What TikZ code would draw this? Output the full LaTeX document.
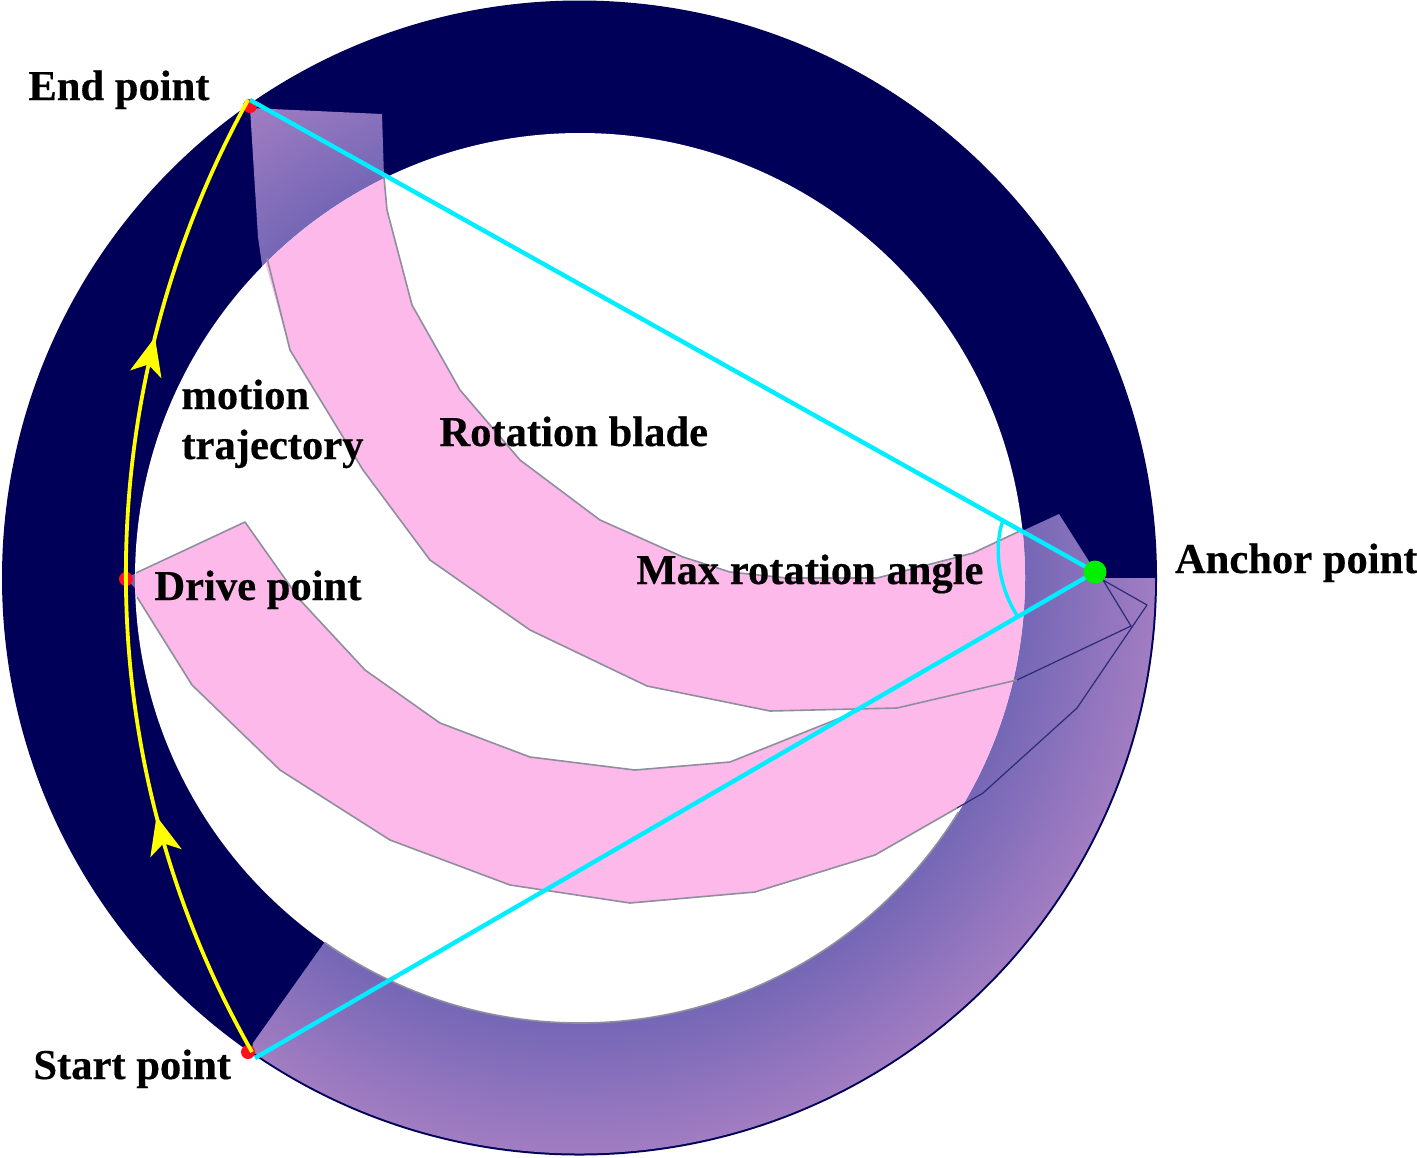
\documentclass[tikz,border=0pt]{standalone}
\usepackage{fontspec}
\setmainfont{Liberation Serif}[BoldFeatures={FakeBold=0.35}]
\usetikzlibrary{arrows.meta,decorations.markings}
\definecolor{ringnavy}{HTML}{000058}
\definecolor{bladepink}{HTML}{FDB9E9}
\definecolor{purpledark}{HTML}{7467B6}
\definecolor{purplelight}{HTML}{A27DC2}
\definecolor{edgegray}{HTML}{8E8E9E}
\definecolor{edgedark}{HTML}{2B2B78}
\definecolor{linecyan}{HTML}{00EEFF}
\definecolor{lineyellow}{HTML}{FFFF00}
\definecolor{anchorgreen}{HTML}{00F000}
\definecolor{dotred}{HTML}{FF0F1F}
\pgfdeclareradialshading{ringshade}{\pgfpoint{0bp}{0bp}}{color(0bp)=(purpledark); color(19.2bp)=(purpledark); color(25bp)=(purplelight); color(50bp)=(purplelight)}
\tikzset{
  lbl/.style={anchor=base west,inner sep=0pt,font=\fontsize{21.3pt}{24pt}\selectfont\bfseries,text=black},
  reddot/.style={circle,fill=dotred,inner sep=0pt,minimum size=7pt},
  greendot/.style={circle,fill=anchorgreen,inner sep=0pt,minimum size=11.5pt},
  cyanline/.style={draw=linecyan,line width=2.2pt},
  cyanarc/.style={draw=linecyan,line width=1.7pt},
  grayedge/.style={draw=edgegray,line width=0.8pt,line join=round},
  darkedge/.style={draw=edgedark,line width=0.6pt,line join=round},
  trajectory/.style={draw=lineyellow,line width=1.9pt,postaction={decorate},
    decoration={markings,
      mark=at position 0.2565 with {\arrow[lineyellow]{Stealth[length=19pt,width=16pt,inset=5pt]}},
      mark=at position 0.743 with {\arrow[lineyellow]{Stealth[length=19pt,width=16pt,inset=5pt]}}}},
}
\begin{document}
\begin{tikzpicture}[x=0.5pt,y=-0.5pt]
\useasboundingbox (0,0) rectangle (1417,1157);
\fill[white] (0,0) rectangle (1417,1157);
\coordinate (ringc) at (579.5,578);
\coordinate (holec) at (580,578);
% ring
\fill[ringnavy] (ringc) circle[radius=577.5];
% purple overlap in the ring
\begin{scope}
  \clip (ringc) circle[radius=575.5];
  \clip (1020,532) -- (1059,514) -- (1090,563) -- (1103,578) -- (1175,578) -- (1175,1175) -- (230,1175) -- (253,1043) -- (324,943) -- cycle
        (250,108) -- (382,114) -- (384,177) -- (420,300) -- (267,300) -- (258,237) -- cycle
        (126,578) -- (150,567) -- (150,605) -- cycle;
  \shade[shading=ringshade] (ringc) circle[radius=577.5];
\end{scope}
% hole
\fill[white] (holec) circle[radius=445];
% blades inside the hole
\begin{scope}
  \clip (holec) circle[radius=445];
  \fill[bladepink] (250,108) -- (382,114) -- (384,177) -- (387,210) -- (412,305) -- (460,390) -- (520,460) -- (600,520) -- (683,557) -- (730,572) -- (787,578) -- (877,578) -- (973,553) -- (1022,530) -- (1059,514) -- (1103,580) -- (1131,626) -- (1017,680) -- (897,708) -- (770,711) -- (647,686) -- (530,630) -- (430,560) -- (363,470) -- (290,350) -- (258,237) -- cycle;
  \fill[bladepink] (128,578) -- (245,522) -- (300,600) -- (365,670) -- (440,723) -- (530,757) -- (635,770) -- (730,762) -- (860,710) -- (1131,626) -- (1147,605) -- (1077,708) -- (983,793) -- (957,808) -- (875,855) -- (755,892) -- (630,903) -- (510,885) -- (390,840) -- (280,770) -- (192,685) -- (137,597) -- cycle;
\end{scope}
% inner edge of the overlap
\begin{scope}
  \clip (holec) -- (198,1124) -- (578,1300) -- (1400,1300) -- (1143,926) -- cycle;
  \draw[grayedge] (holec) circle[radius=445];
\end{scope}
% blade outlines
\draw[grayedge] (384,177) -- (387,210) -- (412,305) -- (460,390) -- (520,460) -- (600,520) -- (683,557) -- (730,572) -- (787,578) -- (877,578) -- (973,553) -- (1022,530);
\draw[grayedge] (267,258) -- (290,350) -- (363,470) -- (430,560) -- (530,630) -- (647,686) -- (770,711) -- (897,708) -- (1017,680);
\draw[darkedge] (1017,680) -- (1131,626) -- (1103,580) -- (1147,605) -- (1077,708) -- (983,793) -- (957,808);
\draw[grayedge] (136,573) -- (245,522) -- (300,600) -- (365,670) -- (440,723) -- (530,757) -- (635,770) -- (730,762) -- (860,710);
\draw[grayedge] (137,597) -- (192,685) -- (280,770) -- (390,840) -- (510,885) -- (630,903) -- (755,892) -- (875,855) -- (957,808);
% points
\node[reddot] (endpt) at (250,106) {};
\node[reddot] (drivept) at (126,579) {};
\node[reddot] (startpt) at (248,1052) {};
\coordinate (anchorc) at (1095,572);
\coordinate (trajstart) at (252,1052);
\coordinate (trajend) at (248,100);
\coordinate (limitend) at (250,100);
\coordinate (limitstart) at (255,1058);
\coordinate (arcA) at (1003,520);
\coordinate (arcB) at (1018,617);
% trajectory
\draw[trajectory] (trajstart) .. controls (84,757) and (85,396) .. (trajend);
% limits and angle
\draw[cyanline] (limitend) -- (anchorc) -- (limitstart);
\draw[cyanarc] (arcA) .. controls (994,545) and (997,585) .. (arcB);
\node[greendot] (anchorpt) at (anchorc) {};
% labels
\node[lbl] (lend) at (28,100) {End point};
\node[lbl] (lmotion) at (181,409) {motion};
\node[lbl] (ltraj) at (181,459) {trajectory};
\node[lbl] (lblade) at (439,446) {Rotation blade};
\node[lbl] (lmax) at (636,584) {Max rotation angle};
\node[lbl] (lanchor) at (1174.5,573) {Anchor point};
\node[lbl] (ldrive) at (154,600) {Drive point};
\node[lbl] (lstart) at (33,1079) {Start point};
\end{tikzpicture}
\end{document}
